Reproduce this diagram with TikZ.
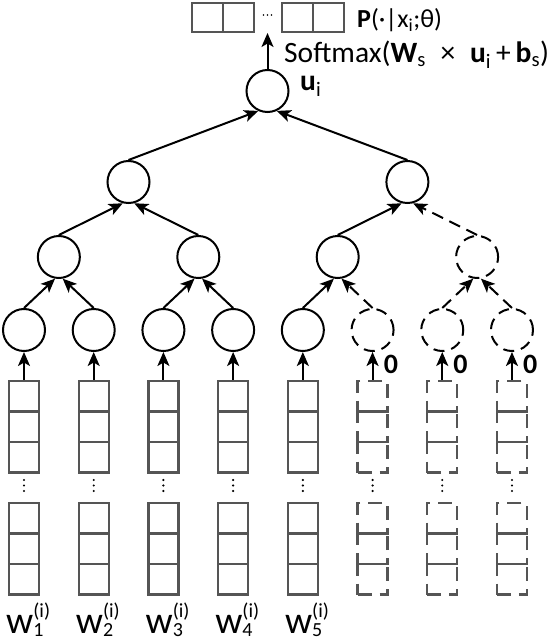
\documentclass[tikz,border=0pt]{standalone}
\usepackage{fontspec}
\setmainfont{Carlito}
\usetikzlibrary{arrows.meta}
\definecolor{cellgray}{RGB}{85,85,85}
\newcommand{\wlab}[1]{w\rlap{\raisebox{16pt}{\fontsize{20}{20}\selectfont(i)}}\raisebox{-3.5pt}{\fontsize{20}{20}\selectfont #1}}
\tikzset{
  neuron/.style={circle, draw, line width=2pt, minimum size=42pt, inner sep=0pt},
  dneuron/.style={neuron, dash pattern=on 11pt off 7pt},
  edge/.style={line width=2pt, -{Stealth[length=14pt,width=12pt,inset=3.5pt]}},
  dedge/.style={edge, dash pattern=on 12pt off 7pt},
  cell/.style={draw=cellgray, line width=2.2pt, minimum width=30pt, minimum height=30.5pt, inner sep=0pt},
  dcell/.style={cell, dash pattern=on 14pt off 8pt},
  topcell/.style={draw=cellgray, line width=2.2pt, minimum width=31pt, minimum height=29pt, inner sep=0pt},
  lab/.style={font=\fontsize{29.5}{34}\selectfont, inner sep=0pt, anchor=base west},
  plab/.style={font=\fontsize{26}{30}\selectfont, inner sep=0pt, anchor=base west},
  zlab/.style={font=\fontsize{28}{32}\selectfont\bfseries, inner sep=0pt, anchor=base west},
  wlabel/.style={font=\fontsize{38}{44}\selectfont, inner sep=0pt, anchor=base west},
}
\begin{document}
\begin{tikzpicture}[x=1pt,y=-1pt]
\useasboundingbox (0,0) rectangle (551,644);

% columns, leaves
\foreach \i/\st/\nst in {1/cell/neuron,2/cell/neuron,3/cell/neuron,4/cell/neuron,5/cell/neuron,6/dcell/dneuron,7/dcell/dneuron,8/dcell/dneuron} {
  \pgfmathsetmacro\cx{24+69.71*(\i-1)}
  \node[\st] (c\i a) at (\cx,396.25) {};
  \node[\st] (c\i b) at (\cx,426.75) {};
  \node[\st] (c\i c) at (\cx,457.25) {};
  \node[\st] (c\i d) at (\cx,518.25) {};
  \node[\st] (c\i e) at (\cx,548.75) {};
  \node[\st] (c\i f) at (\cx,579.25) {};
  \fill (\cx,480) circle (1.2pt) (\cx,485.5) circle (1.2pt) (\cx,491) circle (1.2pt);
  \node[\nst] (l\i) at (\cx,330) {};
  \draw[edge] (c\i a.north) -- (l\i.south);
}
\foreach \i in {1,...,5} {
  \pgfmathsetmacro\cx{24+69.71*(\i-1)}
  \node[wlabel] (w\i) at (\cx-18,633) {\wlab{\i}};
}
\foreach \i in {6,7,8} {
  \pgfmathsetmacro\cx{24+69.71*(\i-1)}
  \node[zlab] (z\i) at (\cx+11,373) {0};
}

% upper levels
\node[neuron] (p) at (58.85,257) {};
\node[neuron] (q) at (198.3,257) {};
\node[neuron] (s) at (337.7,257) {};
\node[dneuron] (t) at (477.1,257) {};
\node[neuron] (a) at (128.5,182) {};
\node[neuron] (b) at (407.4,182) {};
\node[neuron] (r) at (267.5,91) {};

\draw[edge] (l1.north) -- (p.260);
\draw[edge] (l2.north) -- (p.280);
\draw[edge] (l3.north) -- (q.260);
\draw[edge] (l4.north) -- (q.280);
\draw[edge] (l5.north) -- (s.260);
\draw[dedge] (l6.north) -- (s.280);
\draw[dedge] (l7.north) -- (t.260);
\draw[dedge] (l8.north) -- (t.280);
\draw[edge] (p.north) -- (a.255);
\draw[edge] (q.north) -- (a.285);
\draw[edge] (s.north) -- (b.255);
\draw[dedge] (t.north) -- (b.285);
\draw[edge] (a.north) -- (r.245);
\draw[edge] (b.north) -- (r.295);

% output vector
\node[topcell] (t1) at (207.5,17.5) {};
\node[topcell] (t2) at (238.5,17.5) {};
\node[topcell] (t3) at (297.5,17.5) {};
\node[topcell] (t4) at (328.5,17.5) {};
\fill (263.5,15) circle (0.9pt) (267.5,15) circle (0.9pt) (271.5,15) circle (0.9pt);
\coordinate (sm) at (267.5,33);
\draw[edge] (r.north) -- (sm);

\node[plab] (plabel) at (357,28) {\textbf{P}(·|x\textsubscript{i};θ)};
\node[lab] (smx) at (284,63) {Softmax(\textbf{W}\textsubscript{s}\enspace×\enspace\textbf{u}\textsubscript{i}\,+\,\textbf{b}\textsubscript{s})};
\node[lab] (ulab) at (300,91) {\textbf{u}\textsubscript{i}};
\end{tikzpicture}
\end{document}
